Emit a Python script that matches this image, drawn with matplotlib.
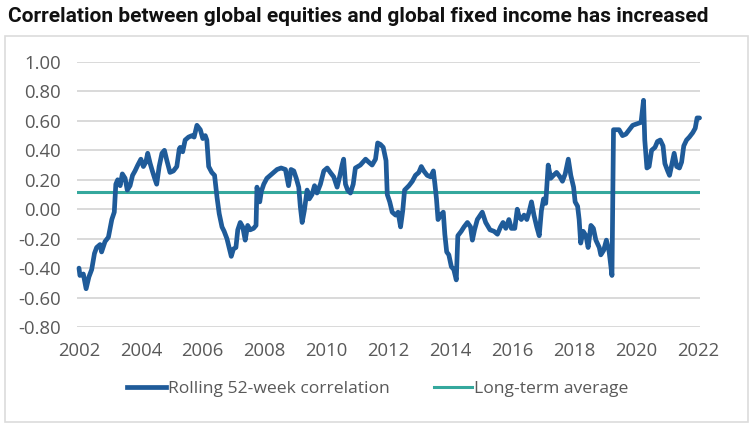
import matplotlib
matplotlib.use("Agg")
import matplotlib.pyplot as plt
from matplotlib.patches import Rectangle
from matplotlib.lines import Line2D

# ---- data (decimal years, rolling correlation) ----
years = [
    2002.00, 2002.03, 2002.14, 2002.23, 2002.32, 2002.41, 2002.50, 2002.57, 2002.68, 2002.73,
    2002.84, 2002.95, 2003.06, 2003.14, 2003.19, 2003.25, 2003.33, 2003.40, 2003.49, 2003.56,
    2003.65, 2003.73, 2003.81, 2003.90, 2004.00, 2004.08, 2004.16, 2004.22, 2004.30, 2004.37,
    2004.46, 2004.51, 2004.59, 2004.68, 2004.76, 2004.84, 2004.94, 2005.05, 2005.16, 2005.24,
    2005.27, 2005.35, 2005.43, 2005.54, 2005.65, 2005.72, 2005.81, 2005.92, 2006.00, 2006.08,
    2006.13, 2006.19, 2006.29, 2006.38, 2006.46, 2006.53, 2006.62, 2006.69, 2006.78, 2006.85,
    2006.92, 2006.99, 2007.07, 2007.13, 2007.21, 2007.29, 2007.37, 2007.45, 2007.53, 2007.64,
    2007.72, 2007.75, 2007.84, 2007.89, 2007.97, 2008.07, 2008.18, 2008.29, 2008.40, 2008.53,
    2008.67, 2008.77, 2008.85, 2008.94, 2009.02, 2009.10, 2009.15, 2009.21, 2009.28, 2009.37,
    2009.44, 2009.53, 2009.61, 2009.69, 2009.80, 2009.91, 2010.02, 2010.12, 2010.23, 2010.34,
    2010.42, 2010.50, 2010.55, 2010.61, 2010.68, 2010.77, 2010.86, 2010.93, 2011.09, 2011.26,
    2011.36, 2011.47, 2011.58, 2011.65, 2011.74, 2011.83, 2011.92, 2011.96, 2012.04, 2012.12,
    2012.23, 2012.31, 2012.39, 2012.46, 2012.52, 2012.66, 2012.77, 2012.87, 2012.98, 2013.06,
    2013.14, 2013.25, 2013.36, 2013.45, 2013.50, 2013.55, 2013.60, 2013.68, 2013.77, 2013.82,
    2013.88, 2013.95, 2014.03, 2014.11, 2014.19, 2014.24, 2014.35, 2014.44, 2014.55, 2014.65,
    2014.71, 2014.78, 2014.87, 2015.03, 2015.14, 2015.28, 2015.41, 2015.52, 2015.62, 2015.70,
    2015.79, 2015.89, 2015.97, 2016.08, 2016.16, 2016.22, 2016.29, 2016.38, 2016.47, 2016.54,
    2016.62, 2016.70, 2016.79, 2016.87, 2016.94, 2017.01, 2017.08, 2017.16, 2017.24, 2017.33,
    2017.43, 2017.54, 2017.62, 2017.71, 2017.81, 2017.89, 2017.98, 2018.03, 2018.11, 2018.16,
    2018.21, 2018.29, 2018.38, 2018.45, 2018.54, 2018.62, 2018.70, 2018.81, 2018.86, 2018.95,
    2019.04, 2019.13, 2019.22, 2019.27, 2019.35, 2019.45, 2019.56, 2019.67, 2019.78, 2019.89,
    2020.03, 2020.16, 2020.24, 2020.28, 2020.35, 2020.42, 2020.50, 2020.61, 2020.69, 2020.78,
    2020.87, 2020.93, 2021.02, 2021.08, 2021.16, 2021.23, 2021.31, 2021.40, 2021.47, 2021.54,
    2021.63, 2021.72, 2021.83, 2021.91, 2021.97, 2022.05,
]
correlation = [
    -0.40, -0.45, -0.44, -0.54, -0.46, -0.41, -0.30, -0.26, -0.24, -0.29,
    -0.22, -0.19, -0.07, -0.02, 0.17, 0.20, 0.16, 0.24, 0.21, 0.13,
    0.16, 0.23, 0.26, 0.30, 0.34, 0.29, 0.32, 0.38, 0.31, 0.26,
    0.20, 0.17, 0.29, 0.38, 0.40, 0.33, 0.25, 0.26, 0.29, 0.41,
    0.42, 0.39, 0.47, 0.49, 0.50, 0.49, 0.57, 0.54, 0.48, 0.50,
    0.47, 0.29, 0.25, 0.23, 0.08, -0.03, -0.12, -0.15, -0.20, -0.26,
    -0.32, -0.27, -0.26, -0.14, -0.09, -0.12, -0.21, -0.11, -0.14, -0.13,
    -0.11, 0.15, 0.05, 0.12, 0.17, 0.21, 0.23, 0.25, 0.27, 0.28,
    0.27, 0.16, 0.27, 0.26, 0.21, 0.15, 0.02, -0.09, -0.01, 0.13,
    0.07, 0.10, 0.16, 0.11, 0.17, 0.26, 0.28, 0.25, 0.22, 0.15,
    0.22, 0.30, 0.34, 0.17, 0.13, 0.11, 0.17, 0.28, 0.30, 0.34,
    0.32, 0.30, 0.34, 0.45, 0.44, 0.42, 0.33, 0.10, 0.05, -0.02,
    -0.04, -0.02, -0.12, -0.01, 0.13, 0.16, 0.19, 0.23, 0.25, 0.29,
    0.26, 0.23, 0.22, 0.26, 0.17, 0.07, -0.07, -0.04, -0.02, -0.17,
    -0.29, -0.31, -0.39, -0.41, -0.48, -0.18, -0.15, -0.12, -0.09, -0.12,
    -0.21, -0.14, -0.07, -0.02, -0.09, -0.14, -0.15, -0.17, -0.12, -0.09,
    -0.13, -0.07, -0.13, -0.13, 0.00, -0.05, -0.07, -0.04, -0.07, -0.02,
    0.05, -0.04, -0.12, -0.18, -0.01, 0.07, 0.04, 0.30, 0.21, 0.23,
    0.25, 0.22, 0.19, 0.24, 0.34, 0.23, 0.15, 0.05, 0.02, -0.07,
    -0.23, -0.15, -0.18, -0.26, -0.11, -0.13, -0.21, -0.26, -0.31, -0.28,
    -0.21, -0.29, -0.45, 0.54, 0.54, 0.54, 0.50, 0.51, 0.54, 0.57,
    0.58, 0.59, 0.74, 0.47, 0.28, 0.29, 0.40, 0.42, 0.46, 0.47,
    0.43, 0.31, 0.26, 0.23, 0.31, 0.38, 0.29, 0.28, 0.32, 0.43,
    0.47, 0.49, 0.52, 0.55, 0.62, 0.62,
]
long_term_average = 0.12
x_ticks = [2002, 2004, 2006, 2008, 2010, 2012, 2014, 2016, 2018, 2020, 2022]
y_ticks = [-0.8, -0.6, -0.4, -0.2, 0.0, 0.2, 0.4, 0.6, 0.8, 1.0]
title = "Correlation between global equities and global fixed income has increased"
series_labels = ["Rolling 52-week correlation", "Long-term average"]

# ---- style ----
BLUE = "#1f5b99"
TEAL = "#35a89d"
GRID = "#d9d9d9"
TEXT = "#595959"
FONT = ["Open Sans", "DejaVu Sans"]

W, H = 756, 428
fig = plt.figure(figsize=(W / 100, H / 100), dpi=100)
fig.patch.set_facecolor("white")

# outer frame
fig.patches.append(Rectangle((5 / W, 6 / H), 743 / W, 386 / H, transform=fig.transFigure,
                             fill=False, edgecolor="#dcdcdc", linewidth=1.2))

fig.text(8 / W, 1 - 17 / H, title, fontsize=15, fontweight="bold", color="#111111",
         family=["Roboto", "DejaVu Sans"], va="center", ha="left")

left, right, top, bottom = 77, 700, 62, 327
ax = fig.add_axes([left / W, 1 - bottom / H, (right - left) / W, (bottom - top) / H])
ax.set_facecolor("white")

xpad = 2 / 31.0
ax.set_xlim(2002 - xpad, 2022 + xpad)
ax.set_ylim(-0.8, 1.0)

for yv in y_ticks:
    ax.axhline(yv, color=GRID, linewidth=1.4, zorder=1)

ax.axhline(long_term_average, color=TEAL, linewidth=2.2, zorder=2)
ax.plot(years, correlation, color=BLUE, linewidth=3.4, solid_joinstyle="round",
        solid_capstyle="round", zorder=3, clip_on=False)

ax.set_xticks(x_ticks)
ax.set_xticklabels([str(t) for t in x_ticks])
ax.set_yticks(y_ticks)
ax.set_yticklabels([f"{v:.2f}" for v in y_ticks])
ax.tick_params(axis="both", length=0, labelsize=13.3, labelcolor=TEXT)
ax.tick_params(axis="y", pad=11.5)
ax.tick_params(axis="x", pad=10.5)
for lab in ax.get_xticklabels() + ax.get_yticklabels():
    lab.set_family(FONT)
for s in ax.spines.values():
    s.set_visible(False)

handles = [Line2D([], [], color=BLUE, linewidth=3.4),
           Line2D([], [], color=TEAL, linewidth=2.2)]
leg = fig.legend(handles, series_labels, loc="center", bbox_to_anchor=(378 / W, 1 - 389 / H),
                 ncol=2, frameon=False, handlelength=2.2, handletextpad=0.12,
                 columnspacing=2.5, prop={"family": FONT, "size": 12.6})
for t in leg.get_texts():
    t.set_color(TEXT)

fig.savefig("out.png", dpi=100, facecolor="white")
